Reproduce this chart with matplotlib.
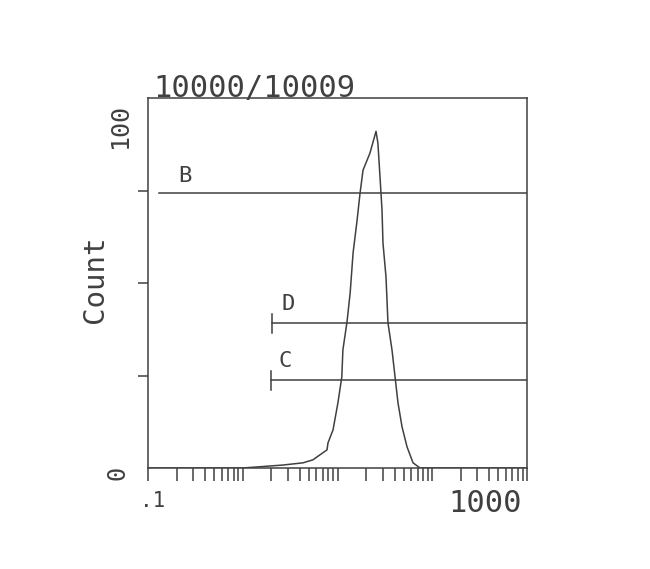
import matplotlib
matplotlib.use("Agg")
import matplotlib.pyplot as plt
from matplotlib.ticker import LogLocator, NullFormatter, FixedLocator

# ---- data ----
title_text = "10000/10009"
y_label = "Count"
hist_x = [0.1, 1.0, 2.66, 4.33, 5.5, 6.08, 7.75, 7.94, 8.97, 10.1, 11.1, 11.4, 12.6,
          13.6, 14.6, 16.1, 17.3, 18.6, 22.0, 25.5, 26.7, 28.1, 29.5, 30.2, 32.5,
          34.1, 37.6, 40.5, 43.5, 48.0, 54.2, 62.7, 74.3, 1000]
hist_y = [0, 0, 0.8, 1.4, 2.2, 3.0, 4.9, 6.8, 10.3, 17.6, 24.6, 31.9, 39.5,
          47.3, 58.1, 67.0, 74.3, 80.5, 85.1, 91.0, 87.8, 78.6, 69.7, 60.8, 51.6,
          39.2, 31.9, 24.6, 17.6, 11.1, 5.7, 1.4, 0, 0]
marker_names = ["B", "D", "C"]
marker_start = [0.13, 2.05, 2.0]
marker_end = [1000, 1000, 1000]
marker_level = [74.3, 39.2, 23.8]
marker_label_x = [0.208, 2.59, 2.36]
marker_label_y = [77.3, 42.7, 27.3]
y_ticks = [25, 50, 75]
x_min, x_max = 0.1, 1000
y_min, y_max = 0, 100

ink = "#404040"
mono = "DejaVu Sans Mono"

fig = plt.figure(figsize=(6.5, 5.69), dpi=100)
ax = fig.add_axes([148/650, 1-468/569, 379/650, 370/569])
ax.set_xscale("log")
ax.set_xlim(x_min, x_max)
ax.set_ylim(y_min, y_max)

ax.plot(hist_x, hist_y, color=ink, lw=1.1)

for name, x0, x1, lvl, lx, ly in zip(marker_names, marker_start, marker_end, marker_level,
                                     marker_label_x, marker_label_y):
    ax.plot([x0, x1], [lvl, lvl], color=ink, lw=1.1)
    if name != "B":
        ax.plot([x0, x0], [lvl - 2.6, lvl + 2.4], color=ink, lw=1.1)
    ax.text(lx, ly, name, fontsize=16, family=mono, color=ink, ha="left", va="baseline")

for s in ax.spines.values():
    s.set_color(ink)
    s.set_linewidth(1.1)

ax.xaxis.set_major_locator(LogLocator(base=10, numticks=10))
ax.xaxis.set_minor_locator(LogLocator(base=10, subs=range(2, 10), numticks=100))
ax.xaxis.set_major_formatter(NullFormatter())
ax.xaxis.set_minor_formatter(NullFormatter())
ax.tick_params(axis="x", which="both", direction="out", length=9, width=1.1, color=ink)
ax.yaxis.set_major_locator(FixedLocator(y_ticks))
ax.yaxis.set_major_formatter(NullFormatter())
ax.tick_params(axis="y", which="both", direction="out", length=7, width=1.1, color=ink)

# axis annotations (scanned style)
ax.text(0.013, 1.003, title_text, transform=ax.transAxes, fontsize=22, family=mono,
        color=ink, ha="left", va="baseline")
ax.text(-0.14, 0.51, y_label, transform=ax.transAxes, fontsize=21, family=mono,
        color=ink, rotation=90, ha="center", va="center")
ax.text(-0.075, 0.925, "100", transform=ax.transAxes, fontsize=18, family=mono,
        color=ink, rotation=90, ha="center", va="center")
ax.text(-0.08, -0.014, "0", transform=ax.transAxes, fontsize=17, family=mono,
        color=ink, rotation=90, ha="center", va="center")
ax.text(0.012, -0.09, ".1", transform=ax.transAxes, fontsize=15, family=mono,
        color=ink, ha="center", va="center")
ax.text(0.89, -0.097, "1000", transform=ax.transAxes, fontsize=22, family=mono,
        color=ink, ha="center", va="center")

fig.savefig("out.png", dpi=100)
